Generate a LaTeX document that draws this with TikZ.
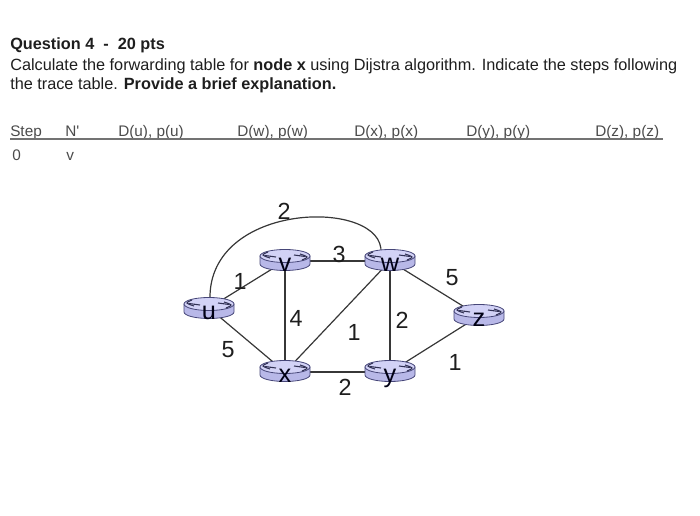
\documentclass[tikz,border=0pt]{standalone}
\usepackage{fontspec}
\setmainfont{Liberation Sans}
\usetikzlibrary{backgrounds}
\definecolor{rtop}{RGB}{210,210,246}
\definecolor{rbody}{RGB}{184,184,232}
\definecolor{rline}{RGB}{70,70,120}
\definecolor{txt}{RGB}{30,30,30}
\definecolor{edgec}{RGB}{55,55,55}
\newcommand{\rtr}[4]{%
  \path[rbodystyle] (#2-25,#3-4) -- (#2-25,#3+4) arc[start angle=180,end angle=0,x radius=25,y radius=6.5] -- (#2+25,#3-4) -- cycle;
  \path[rtopstyle] (#2,#3-4) ellipse[x radius=25,y radius=6.5];
  \draw[rmark] (#2-17,#3-8) .. controls (#2-24,#3-5) .. (#2-15,#3-2);
  \draw[rmark] (#2-20,#3-4.5) -- (#2-9,#3-3);
  \draw[rmark] (#2+17,#3) .. controls (#2+24,#3-3) .. (#2+15,#3-6);
  \draw[rmark] (#2+20,#3-3.5) -- (#2+9,#3-5);
  \node[rlabel] (#1) at (#2,#3+12) {#4};
}
\begin{document}
\begin{tikzpicture}[x=0.75pt,y=-0.75pt,
  rbodystyle/.style={fill=rbody,draw=rline,line width=0.6pt},
  rtopstyle/.style={fill=rtop,draw=rline,line width=0.6pt},
  rmark/.style={draw=rline!70!black,line width=0.8pt},
  rlabel/.style={anchor=base,inner sep=0pt,font=\fontsize{19}{20}\selectfont,text=black!92!blue},
  link/.style={draw=edgec,line width=0.9pt},
  wlabel/.style={inner sep=0pt,font=\fontsize{17.5}{19}\selectfont,text=txt},
  body/.style={anchor=base west,inner sep=0pt,text=txt,font=\fontsize{12.2}{14}\selectfont},
  head/.style={anchor=base west,inner sep=0pt,text=txt!80,font=\fontsize{11.5}{13}\selectfont}]
\useasboundingbox (0,0) rectangle (700,516);
% text
\node[body,font=\fontsize{12.2}{14}\selectfont\bfseries] (q) at (10,50) {Question 4\ \ -\ \ 20 pts};
\node[body] (l1) at (10,71) {Calculate the forwarding table for \textbf{node x} using Dijstra algorithm. Indicate the steps following};
\node[body] (l2) at (10,90) {the trace table. \textbf{Provide a brief explanation.}};
% table
\node[head] (hs) at (10,137) {Step};
\node[head] (hn) at (65,137) {N\textquotesingle};
\node[head] (hu) at (118,137) {D(u), p(u)};
\node[head] (hw) at (237,137) {D(w), p(w)};
\node[head] (hx) at (354,137) {D(x), p(x)};
\node[head] (hy) at (466,137) {D(y), p(y)};
\node[head] (hz) at (595,137) {D(z), p(z)};
\coordinate (ula) at (10,139);
\coordinate (ulb) at (663,139);
\draw[black!55,line width=0.8pt] (ula) -- (ulb);
\node[head] (r0) at (12,161) {0};
\node[head] (rv) at (66,161) {v};
% routers
\rtr{u}{209}{308}{u}
\rtr{v}{285}{260}{v}
\rtr{w}{390}{260}{w}
\rtr{z}{479}{315}{z}
\rtr{x}{285}{371}{x}
\rtr{y}{390}{371}{y}
\coordinate (uc) at (209,308);
\coordinate (vc) at (285,261);
\coordinate (wc) at (390,261);
\coordinate (zc) at (479,316);
\coordinate (xc) at (285,372);
\coordinate (yc) at (390,372);
\coordinate (wt) at (381,253);
\coordinate (ut) at (210,300);
\begin{pgfonlayer}{background}
\draw[link] (uc) -- (vc);
\draw[link] (vc) -- (wc);
\draw[link] (vc) -- (xc);
\draw[link] (uc) -- (xc);
\draw[link] (xc) -- (wc);
\draw[link] (xc) -- (yc);
\draw[link] (wc) -- (yc);
\draw[link] (wc) -- (zc);
\draw[link] (yc) -- (zc);
\draw[link] (ut) .. controls (207,200) and (385,198) .. (wt);
\end{pgfonlayer}
% weights
\node[wlabel] (e1) at (240,281) {1};
\node[wlabel] (e2) at (284,211) {2};
\node[wlabel] (e3) at (339,254) {3};
\node[wlabel] (e4) at (296,318) {4};
\node[wlabel] (e5) at (228,350) {5};
\node[wlabel] (e6) at (354,332) {1};
\node[wlabel] (e7) at (345,387) {2};
\node[wlabel] (e8) at (402,320) {2};
\node[wlabel] (e9) at (452,278) {5};
\node[wlabel] (e10) at (455,362) {1};
\end{tikzpicture}
\end{document}
